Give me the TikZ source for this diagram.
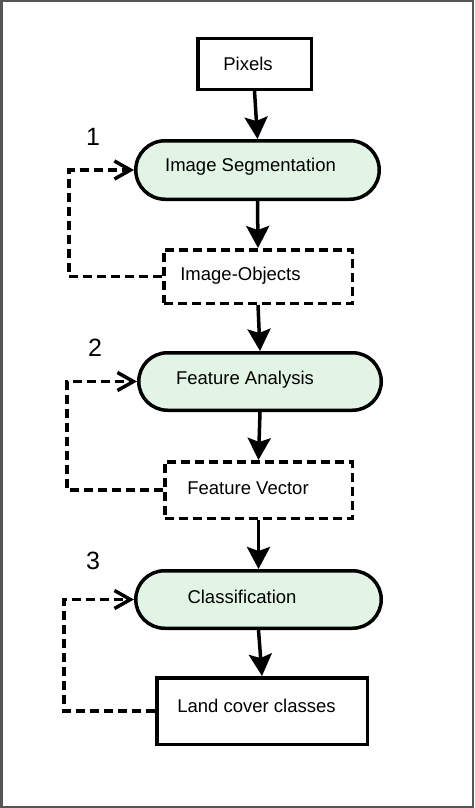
\documentclass[tikz,border=0pt]{standalone}
\usepackage{fontspec}
\setmainfont{Liberation Sans}
\usetikzlibrary{arrows.meta}
\definecolor{framegray}{RGB}{85,85,85}
\definecolor{stepgreen}{RGB}{226,245,228}
\tikzset{
  boxsolid/.style={draw=black, line width=3.5pt, fill=white, inner sep=0pt},
  boxdash/.style={draw=black, line width=3.5pt, dash pattern=on 9pt off 5pt, fill=white, inner sep=0pt},
  stadium/.style={draw=black, line width=3.5pt, fill=stepgreen, inner sep=0pt},
  lbl/.style={inner sep=0pt, font=\fontsize{18.5}{21}\selectfont},
  numlbl/.style={inner sep=0pt, font=\fontsize{25}{28}\selectfont},
  flow/.style={line width=3.5pt, -{Stealth[length=22pt,width=23pt,inset=4pt]}},
  back/.style={line width=3.5pt, dash pattern=on 9pt off 5pt, -{Straight Barb[length=16pt,width=18pt]}}
}
\begin{document}
\begin{tikzpicture}[x=1pt,y=-1pt]
\useasboundingbox (0,0) rectangle (474,808);
\draw[framegray, line width=2.5pt] (1.25,1.25) rectangle (472.75,806.75);

\node[boxsolid, minimum width=113.5pt, minimum height=50.5pt] (pix) at (254.5,64) {};
\node[lbl] (pixt) at (248,64) {Pixels};

\node[stadium, minimum width=243.5pt, minimum height=58.5pt, rounded corners=29.25pt] (seg) at (257.5,170) {};
\node[lbl] (segt) at (250.5,167) {Image Segmentation};

\node[boxdash, minimum width=188.5pt, minimum height=53.5pt] (io) at (258,276.5) {};
\node[lbl] (iot) at (240.5,276) {Image-Objects};

\node[stadium, minimum width=242.5pt, minimum height=57.5pt, rounded corners=28.75pt] (fa) at (260,381.5) {};
\node[lbl] (fat) at (245,380) {Feature Analysis};

\node[boxdash, minimum width=187.5pt, minimum height=56.5pt] (fv) at (258.5,490) {};
\node[lbl] (fvt) at (248,488) {Feature Vector};

\node[stadium, minimum width=245.5pt, minimum height=57.5pt, rounded corners=28.75pt] (cl) at (258.5,599.5) {};
\node[lbl] (clt) at (242,597) {Classification};

\node[boxsolid, minimum width=210.5pt, minimum height=66.5pt] (lc) at (262,711) {};
\node[lbl] (lct) at (256.5,706) {Land cover classes};

\node[numlbl] (n1) at (93,137) {1};
\node[numlbl] (n2) at (95,348) {2};
\node[numlbl] (n3) at (93,561) {3};

\draw[flow] (pix.south) -- (seg.north);
\draw[flow] (seg.south) -- (io.north);
\draw[flow] (io.south) -- (fa.north);
\draw[flow] (fa.south) -- (fv.north);
\draw[flow] (fv.south) -- (cl.north);
\draw[flow] (cl.south) -- (lc.north);

\draw[back] (io.west) -- ++(-93,0) |- (seg.west);
\draw[back] (fv.west) -- ++(-96,0) |- (fa.west);
\draw[back] (lc.west) -- ++(-91,0) |- (cl.west);
\end{tikzpicture}
\end{document}
